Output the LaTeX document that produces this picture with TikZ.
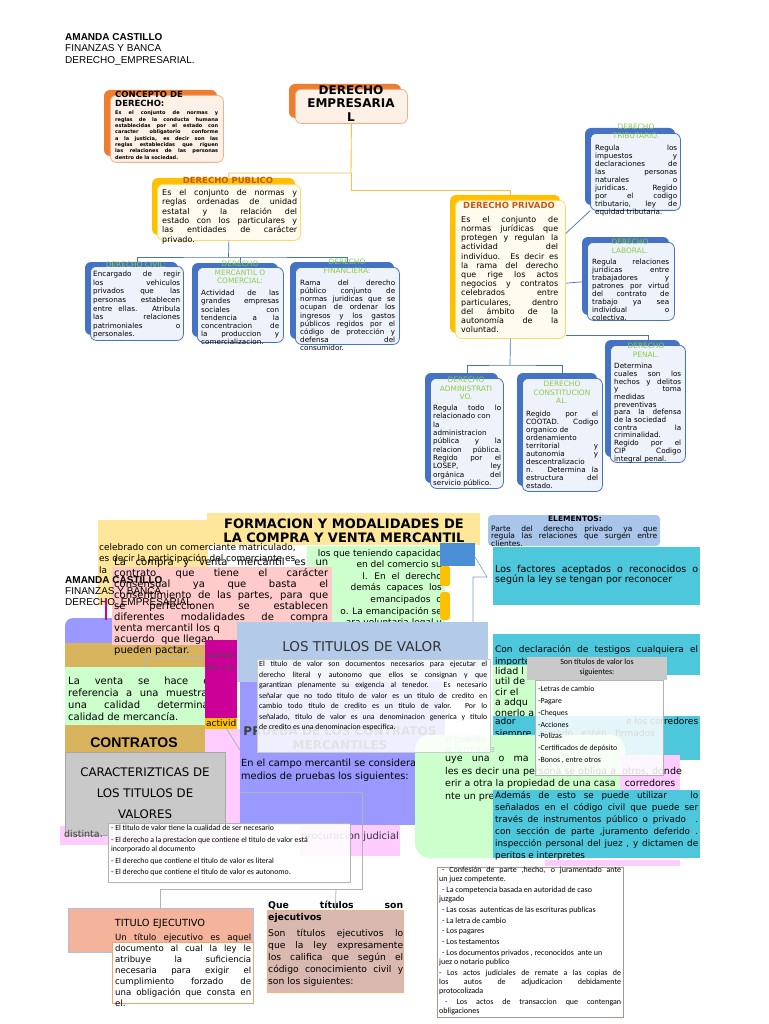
\documentclass[tikz,border=0pt]{standalone}
\usepackage{fontspec}
\setmainfont{DejaVu Sans}
\newfontfamily\lib{Liberation Sans}
\newfontfamily\carl{Carlito}
\newcommand\fs[2]{\fontsize{#1}{#2}\selectfont}
\newcommand\lb{\linebreak}
\definecolor{Odark}{HTML}{ED7D31}
\definecolor{Oline}{HTML}{F4B183}
\definecolor{Ofill}{HTML}{FDF1E7}
\definecolor{Ydark}{HTML}{FFC000}
\definecolor{Yline}{HTML}{FFD966}
\definecolor{Yfill}{HTML}{FFFBEE}
\definecolor{Bdark}{HTML}{4472C4}
\definecolor{Bfill}{HTML}{EEF2FA}
\definecolor{Gt}{HTML}{8CCB4A}
\definecolor{Ttl}{HTML}{C55A11}
\definecolor{Conn}{HTML}{F5C242}
\definecolor{LYel}{HTML}{FEE79B}
\definecolor{LPink}{HTML}{FFCACA}
\definecolor{LGreen}{HTML}{CCFFCC}
\definecolor{Cyan}{HTML}{4DC7DC}
\definecolor{ElBlue}{HTML}{A9C5EA}
\definecolor{TvBlue}{HTML}{B3CAE8}
\definecolor{Lav}{HTML}{9999FF}
\definecolor{Tan}{HTML}{D7B35E}
\definecolor{Mag}{HTML}{CC0099}
\definecolor{Gry}{HTML}{C9C9C9}
\definecolor{Salm}{HTML}{F4B49C}
\definecolor{Rosy}{HTML}{D9B8B0}
\definecolor{Pnk}{HTML}{FFCCFF}
\definecolor{BlueR}{HTML}{4A8FD6}
\begin{document}
\begin{tikzpicture}[x=1pt,y=-1pt,
  fbox/.style={anchor=north west, inner sep=0pt, line width=0.8pt, rounded corners=6pt},
  ofront/.style={fbox, draw=Oline, fill=Ofill},
  yfront/.style={fbox, draw=Yline, fill=Yfill},
  bfront/.style={fbox, draw=Bdark, fill=Bfill},
  txt/.style={anchor=north west, inner sep=0pt, align=justify},
  gtitle/.style={anchor=north, inner sep=0pt, align=center, text=Gt, font=\fs{7.4}{8.5}},
  otitle/.style={anchor=north, inner sep=0pt, text=Ttl, font=\bfseries\fs{8.5}{9}},
  yl/.style={draw=Conn, line width=0.9pt},
  bl/.style={draw=Bdark, line width=0.7pt},
  gl/.style={draw=gray!60, line width=0.8pt},
  plain/.style={anchor=north west, inner sep=0pt, align=left}]
\useasboundingbox (0,0) rectangle (768,1024);
\fill[white] (0,0) rectangle (768,1024);

% ---------------- header
\node[plain, font=\lib\fs{10}{11.5}] (hdr) at (65,33) {\textbf{AMANDA CASTILLO}\\FINANZAS Y BANCA\\DERECHO\_EMPRESARIAL.};

% ---------------- back shapes
\fill[Odark, rounded corners=6pt] (104,90) rectangle (217,156);
\fill[Odark, rounded corners=6pt] (289,84) rectangle (401,118);
\fill[Ydark, rounded corners=6pt] (152,178) rectangle (295,235);
\fill[Ydark, rounded corners=6pt] (450,195) rectangle (560,333);
\fill[Bdark, rounded corners=6pt] (85,262) rectangle (178,335);
\fill[Bdark, rounded corners=6pt] (192,263) rectangle (278,337);
\fill[Bdark, rounded corners=6pt] (290,262) rectangle (394,339);
\fill[Bdark, rounded corners=6pt] (585,128) rectangle (675,205);
\fill[Bdark, rounded corners=6pt] (582,237) rectangle (669,315);
\fill[Bdark, rounded corners=6pt] (605,340) rectangle (680,457);
\fill[Bdark, rounded corners=6pt] (425,373) rectangle (498,483);
\fill[Bdark, rounded corners=6pt] (517,373) rectangle (597,486);

% ---------------- front boxes
\node[ofront, minimum width=113pt, minimum height=67pt] (con) at (110,95) {};
\node[ofront, minimum width=112pt, minimum height=34pt] (emp) at (295,89) {};
\node[yfront, minimum width=143pt, minimum height=56pt] (pub) at (157,184) {};
\node[yfront, minimum width=110pt, minimum height=138pt] (priv) at (455,200) {};
\node[bfront, minimum width=93pt, minimum height=74pt] (civ) at (90,266) {};
\node[bfront, minimum width=86pt, minimum height=75pt] (mer) at (197,267) {};
\node[bfront, minimum width=104pt, minimum height=77pt] (fin) at (295,267) {};
\node[bfront, minimum width=90pt, minimum height=77pt] (trib) at (590,133) {};
\node[bfront, minimum width=87pt, minimum height=78pt] (lab) at (587,242) {};
\node[bfront, minimum width=75pt, minimum height=117pt] (pen) at (610,345) {};
\node[bfront, minimum width=73pt, minimum height=110pt] (adm) at (430,378) {};
\node[bfront, minimum width=80pt, minimum height=113pt] (cons) at (522,378) {};

% ---------------- connectors (top tree)
\coordinate (ya) at (351,173);
\coordinate (yb) at (351,190);
\draw[yl] (emp.south) -- (ya) -| (pub.north);
\draw[yl] (ya) -- (yb) -| (priv.north);
\coordinate (pb) at (228.5,257);
\draw[bl] (pub.south) -- (pb);
\draw[bl] (civ.north) |- (pb) -| (fin.north);
\draw[bl] (mer.north) -- (mer.north |- pb);
\draw[bl] (priv.33) -- (trib.south west);
\draw[bl] (priv.-14) -- (lab.west);
\draw[bl] (priv.-50) -| (pen.north);
\coordinate (pv) at (510,365);
\draw[bl] (priv.south) -- (pv);
\draw[bl] (adm.north) |- (pv) -| (cons.north);

% ---------------- texts top
\node[plain, font=\bfseries\fs{8.5}{9}] (cont) at (115,91) {CONCEPTO DE\\DERECHO:};
\node[txt, text width=103pt, font=\bfseries\fs{5}{6.3}] (conb) at (115,111) {Es el conjunto de normas y\lb reglas de la conducta humana\lb establecidas por el estado con\lb caracter obligatorio conforme\lb a la justicia, es decir son las\lb reglas establecidas que riguen\lb las relaciones de las personas\lb dentro de la sociedad.};
\node[anchor=north, inner sep=0pt, align=center, font=\bfseries\fs{12}{13.5}] (empt) at (351,85) {DERECHO\\EMPRESARIA\\L};

\node[otitle] (pubt) at (228,177) {DERECHO PUBLICO};
\node[txt, text width=135pt, font=\fs{8}{9.4}] (pubb) at (162,189) {Es el conjunto de normas y\lb reglas ordenadas de unidad\lb estatal y la relación del\lb estado con los particulares y\lb las entidades de carácter\lb privado.};

\node[otitle] (privt) at (509,202) {DERECHO PRIVADO};
\node[txt, text width=97pt, font=\fs{8}{9.2}] (privb) at (461,216) {Es el conjunto de\lb normas jurídicas que\lb protegen y regulan la\lb actividad del\lb individuo. Es decir es\lb la rama del derecho\lb que rige los actos\lb negocios y contratos\lb celebrados entre\lb particulares, dentro\lb del ámbito de la\lb autonomía de la\lb voluntad.};

\node[gtitle] (civt) at (136,262) {DERECHO CIVIL:};
\node[txt, text width=87pt, font=\fs{7.2}{8.6}] (civb) at (93,271) {Encargado de regir\lb los vehiculos\lb privados que las\lb personas establecen\lb entre ellas. Atribula\lb las relaciones\lb patrimoniales o\lb personales.};

\node[gtitle] (mert) at (240,261) {DERECHO\\MERCANTIL O\\COMERCIAL:};
\node[txt, text width=78pt, font=\fs{7.2}{8.2}] (merb) at (201,290) {Actividad de las\lb grandes empresas\lb sociales con\lb tendencia a la\lb concentracion de\lb la produccion y\lb comercializacion.};

\node[gtitle] (fint) at (347,259) {DERECHO\\FINANCIERA:};
\node[txt, text width=95pt, font=\fs{7.2}{8.1}] (finb) at (300,280) {Rama del derecho\lb público conjunto de\lb normas juridicas que se\lb ocupan de ordenar los\lb ingresos y los gastos\lb públicos regidos por el\lb código de protección y\lb defensa del\lb consumidor.};

\node[gtitle] (tribt) at (636,124) {DERECHO\\TRIBUTARIO.};
\node[txt, text width=82pt, font=\fs{7.2}{8}] (tribb) at (595,145) {Regula los\lb impuestos y\lb declaraciones de\lb las personas\lb naturales o\lb juridicas. Regido\lb por el codigo\lb tributario, ley de\lb equidad tributaria.};

\node[gtitle] (labt) at (630,239) {DERECHO\\LABORAL.};
\node[txt, text width=77pt, font=\fs{7.2}{8}] (labb) at (592,259) {Regula relaciones\lb juridicas entre\lb trabajadores y\lb patrones por virtud\lb del contrato de\lb trabajo ya sea\lb individual o\lb colectiva.};

\node[gtitle] (pent) at (646,343) {DERECHO\\PENAL.};
\node[txt, text width=67pt, font=\fs{7.2}{7.7}] (penb) at (614,363) {Determina\\cuales son los\lb hechos y delitos\lb y toma\lb medidas\\preventivas\\para la defensa\lb de la sociedad\\contra la\lb criminalidad.\\Regido por el\lb CIP Codigo\lb integral penal.};

\node[gtitle] (admt) at (466,377) {DERECHO\\ADMINISTRATI\\VO.};
\node[txt, text width=68pt, font=\fs{7.2}{8.3}] (admb) at (433,405) {Regula todo lo\lb relacionado con\\la\\administracion\\pública y la\lb relacion pública.\lb Regido por el\lb LOSEP, ley\lb orgánica del\lb servicio público.};

\node[gtitle] (const) at (562,381) {DERECHO\\CONSTITUCION\\AL.};
\node[txt, text width=72pt, font=\fs{7.2}{8}] (consb) at (526,411) {Regido por el\lb COOTAD. Codigo\lb organico de\\ordenamiento\\territorial y\lb autonomia y\lb descentralizacio\\n. Determina la\lb estructura del\lb estado.};

% ================= lower collage
\fill[LYel] (98,520) rectangle (208,605);
\fill[LYel] (207,513) rectangle (480,545);
\begin{scope}
\clip (207,513) rectangle (480,545);
\node[anchor=north, inner sep=0pt, align=center, font=\bfseries\fs{13}{14}] (formt) at (344,519) {FORMACION Y MODALIDADES DE\\LA COMPRA Y VENTA MERCANTIL};
\end{scope}
\node[plain, font=\fs{9}{11.5}] (celeb) at (99,543) {celebrado con un comerciante matriculado,\\es decir la participación del comerciante es\\la};

\fill[LGreen] (307,546) rectangle (445,626);
\begin{scope}
\clip (307,546) rectangle (445,626);
\node[anchor=north east, inner sep=0pt, align=right, font=\fs{9}{11.6}] (grn1) at (442,549) {los que teniendo capacidad\\en del comercio su\\l. \ En \ el \ derecho\\demás \ capaces \ los\\emancipados \ o\\o. La emancipación se\\ara voluntaria legal y};
\end{scope}
\fill[BlueR] (440,543) rectangle (475,566);
\fill[Ydark, rounded corners=2pt] (440,566) rectangle (450,586);
\fill[Ydark, rounded corners=3pt] (440,592) rectangle (450,620);

\fill[Lav, rounded corners=8pt] (65,618) rectangle (240,660);
\fill[Tan] (65,643) rectangle (205,755);
\node[anchor=center, inner sep=0pt, font=\lib\bfseries\fs{14}{14}] (contr) at (134,743) {CONTRATOS};

\fill[LPink] (112,567) rectangle (332,645);
\node[txt, text width=214pt, font=\fs{10}{11}] (pinkt) at (114,558) {La compra y venta mercantil es un\lb contrato que tiene el carácter\lb consensual ya que basta el\lb consentimiento de las partes, para que\lb se perfeccionen se establecen\lb diferentes modalidades de compra\lb venta mercantil los q\\acuerdo \ que llegan\\pueden pactar.};
\node[plain, font=\lib\fs{10}{11}] (hdr2) at (65,576) {\textbf{AMANDA CASTILLO}\\FINANZAS Y BANCA\\DERECHO\_EMPRESARIAL.};
\draw[Mag, line width=1.5pt] (106,598) -- (106,620);

\draw[gl] (207,656) -| (145,667);
\fill[LGreen] (65,667) rectangle (223,725);
\node[txt, text width=153pt, font=\fs{10}{12}] (vent) at (68,677) {La venta se hace con\lb referencia a una muestra o\lb una calidad determinada\lb calidad de mercancía.};

\fill[Mag] (205,640) rectangle (237,718);
\node[plain, font=\fs{8.5}{12}, text=black!70] (magt) at (207,652) {vienen\\en u a};
\fill[Ydark] (205,718) rectangle (237,729);
\node[plain, font=\fs{9}{9}] (activ) at (206,719) {activid};
\fill[Pnk] (205,729) rectangle (240,845);
\fill[Pnk] (60,826) rectangle (240,845);
\fill[Pnk] (300,820) rectangle (400,856);
\draw[gl] (226,728) -- (240,750);

% purple main
\fill[Lav] (240,680) rectangle (445,825);
\node[anchor=north, inner sep=0pt, align=center, font=\bfseries\fs{12}{14}, text=black!75] (prueb) at (340,726) {PRUEBA DE LOS CONTRATOS\\MERCANTILES};
\node[plain, font=\fs{9.8}{13}] (campo) at (241,759) {En el campo mercantil se considera como\\medios de pruebas los siguientes:};
\draw[gl] (240,792) -- (362,792);

% right column
\fill[ElBlue, rounded corners=4pt] (488,515) rectangle (660,546);
\begin{scope}
\clip[rounded corners=4pt] (488,515) rectangle (660,546);
\node[anchor=north, inner sep=0pt, font=\bfseries\fs{7.5}{8}] (elem) at (575,515.5) {ELEMENTOS:};
\node[txt, text width=166pt, font=\fs{7.5}{7.4}] (elemb) at (491,525.5) {Parte del derecho privado ya que\lb regula las relaciones que surgen entre\lb clientes.};
\end{scope}
\draw[bl, draw=Bdark!70, line width=0.6pt] (475,557) -- (487,577) -- (473,577) -- (473,622);

\fill[Cyan] (493,547) rectangle (700,605);
\node[txt, text width=203pt, font=\fs{9.5}{10.5}] (cy1) at (495,565) {Los factores aceptados o reconocidos o\lb según la ley se tengan por reconocer};

\fill[Cyan] (493,634) rectangle (700,675);
\node[txt, text width=203pt, font=\fs{9}{12}] (cy2) at (495,645) {Con declaración de testigos cualquiera el\lb importe};

\fill[LGreen] (493,665) rectangle (545,716);
\node[plain, font=\fs{9.5}{10.5}] (grn2) at (495,667) {lidad l\\util de\\cir el\\a adqu\\onerlo a};
\fill[Cyan] (493,716) rectangle (700,760);
\node[txt, text width=203pt, font=\fs{9}{12.5}] (cy3) at (495,717) {ador\hfill e los corredores\\siempre \ \ cuando \ \ estén \ \ firmados\\autorizad. por el corredor};

\fill[LGreen, rounded corners=15pt] (415,735) rectangle (625,858);
\fill[Pnk] (620,755) rectangle (680,792);
\node[plain, font=\fs{9}{10}, text=gray!60] (fade1) at (446,735) {n cuerdo\\a forma ve};
\node[plain, font=\fs{9.5}{12.5}] (grn3) at (445,756) {uye \ \ una \ \ o \ \ ma\\les es decir una persona se obliga a \ otros, donde\\erir a otra la propiedad de una casa \ \ corredores\\nte un pre};

\fill[Cyan] (493,790) rectangle (700,858);
\node[txt, text width=203pt, font=\fs{8.8}{12}] (cy4) at (495,791) {Además de esto se puede utilizar \ \ lo\lb señalados en el código civil que puede ser\lb través de instrumentos público o privado \ .\lb con sección de parte ,juramento deferido .\lb inspección personal del juez , y dictamen de\lb peritos e interpretes};
\fill[Pnk] (545,860) rectangle (680,866);

\fill[Gry] (527,657) rectangle (667,680);
\node[anchor=north, inner sep=0pt, align=center, font=\carl\fs{8}{9.5}] (sont) at (597,659) {Son títulos de valor los\\siguientes:};
\filldraw[fill=white, fill opacity=0.85, draw=gray!60, line width=0.6pt] (535,680) rectangle (663,775);
\node[plain, font=\carl\fs{7.8}{11.8}] (sonl) at (538,686) {-Letras de cambio\\-Pagare\\-Cheques\\-Acciones\\-Polizas\\-Certificados de depósito\\-Bonos , entre otros};

% LOS TITULOS DE VALOR
\fill[TvBlue] (237,622) rectangle (488,682);
\node[anchor=center, inner sep=0pt, font=\fs{13.5}{14}, text=black!80] (ltv) at (362,647) {LOS TITULOS DE VALOR};
\filldraw[fill=white, fill opacity=0.85, draw=gray!40, line width=0.6pt] (257,659) rectangle (490,752);
\node[txt, text width=228pt, font=\carl\fs{7.8}{10.5}] (ltvb) at (259,661) {El titulo de valor son documentos necesarios para ejecutar el\lb derecho literal y autonomo que ellos se consignan y que\lb garantizan plenamente su exigencia al tenedor. Es necesario\lb señalar que no todo titulo de valor es un titulo de credito en\lb cambio todo titulo de credito es un titulo de valor. Por lo\lb señalado, titulo de valor es una denominacion generica y titulo\lb de credito es una denominacion especifica.};

% CARACTERIZTICAS
\filldraw[fill=Gry, draw=gray!70, line width=0.6pt] (65,752) rectangle (225,835);
\node[anchor=center, inner sep=0pt, align=center, font=\fs{11.8}{21}] (cart) at (145,793) {CARACTERIZTICAS DE\\LOS TITULOS DE\\VALORES};
\node[plain, font=\fs{9.5}{10}, text=black!75] (dist) at (64,830) {distinta.};
\node[anchor=center, inner sep=0pt, font=\fs{10}{10}, text=black!80] (proc) at (350,837) {procuracion judicial};
\filldraw[fill=white, fill opacity=0.88, draw=gray!60, line width=0.6pt] (108,823) rectangle (350,882);
\node[plain, font=\carl\fs{7.8}{9.5}] (carl) at (111,825) {- El titulo de valor tiene la cualidad de ser necesario\\[2pt]- El derecho a la prestacion que contiene el titulo de valor está\\incorporado al documento\\[2pt]- El derecho que contiene el titulo de valor es literal\\[2pt]- El derecho que contiene el titulo de valor es autonomo.};

% TITULO EJECUTIVO
\node[anchor=north west, inner sep=0pt, draw=Bdark!45, fill=Salm, line width=0.6pt, minimum width=185pt, minimum height=44pt] (tej) at (68,908) {};
\node[anchor=center, inner sep=0pt, font=\fs{9.8}{10}] (tejt) at (160,924) {TITULO EJECUTIVO};
\node[anchor=north west, inner sep=0pt, draw=Odark!70, fill=white, line width=0.6pt, minimum width=141pt, minimum height=61pt] (tejw) at (112,942) {};
\node[txt, text width=136pt, font=\fs{8.6}{11}] (tejb) at (115,933) {Un título ejecutivo es aquel\lb documento al cual la ley le\lb atribuye la suficiencia\lb necesaria para exigir el\lb cumplimiento forzado de\lb una obligación que consta en\lb el.};

% Que titulos son ejecutivos
\node[anchor=north west, inner sep=0pt, draw=Odark!60, fill=Rosy, line width=0.6pt, minimum width=136pt, minimum height=82pt] (qte) at (267,910) {};
\node[txt, text width=135pt, font=\bfseries\fs{9.3}{12}] (qteh) at (268,901) {Que títulos son\lb ejecutivos};
\node[txt, text width=135pt, font=\fs{9.2}{12}] (qteb) at (268,929) {Son títulos ejecutivos lo\lb que la ley expresamente\lb los califica que según el\lb código conocimiento civil y\lb son los siguientes:};

% connectors lower
\coordinate (c1) at (362,792);
\coordinate (c2) at (362,889);
\coordinate (c3) at (336,889);
\draw[gl] (tej.north) |- (c2) -- (c1);
\draw[gl] (qte.north) -- (c3);

% bottom list
\node[anchor=north west, inner sep=0pt, draw=Rosy!80!black, fill=white, line width=1pt, minimum width=186pt, minimum height=150pt] (lst) at (437,867) {};
\node[txt, text width=182pt, font=\carl\fs{8}{9}] (lstb) at (439,867) {\hspace*{3pt}- Confesión de parte ,hecho, o juramentado ante\lb un juez competente.\\[1.8pt]\hspace*{3pt}- La competencia basada en autoridad de caso\\juzgado\\[1.8pt]\hspace*{3pt}- Las cosas \ autenticas de las escrituras publicas\\[1.8pt]\hspace*{3pt}- La letra de cambio\\[1.8pt]\hspace*{3pt}- Los pagares\\[1.8pt]\hspace*{3pt}- Los testamentos\\[1.8pt]\hspace*{3pt}- Los documentos privados , reconocidos \ ante un\\juez o notario publico\\[1.8pt]- Los actos judiciales de remate a las copias de\lb los autos de adjudicacion debidamente\lb protocolizada\\[1.8pt]\hspace*{6pt}- Los actos de transaccion que contengan\lb obligaciones};
\end{tikzpicture}
\end{document}
